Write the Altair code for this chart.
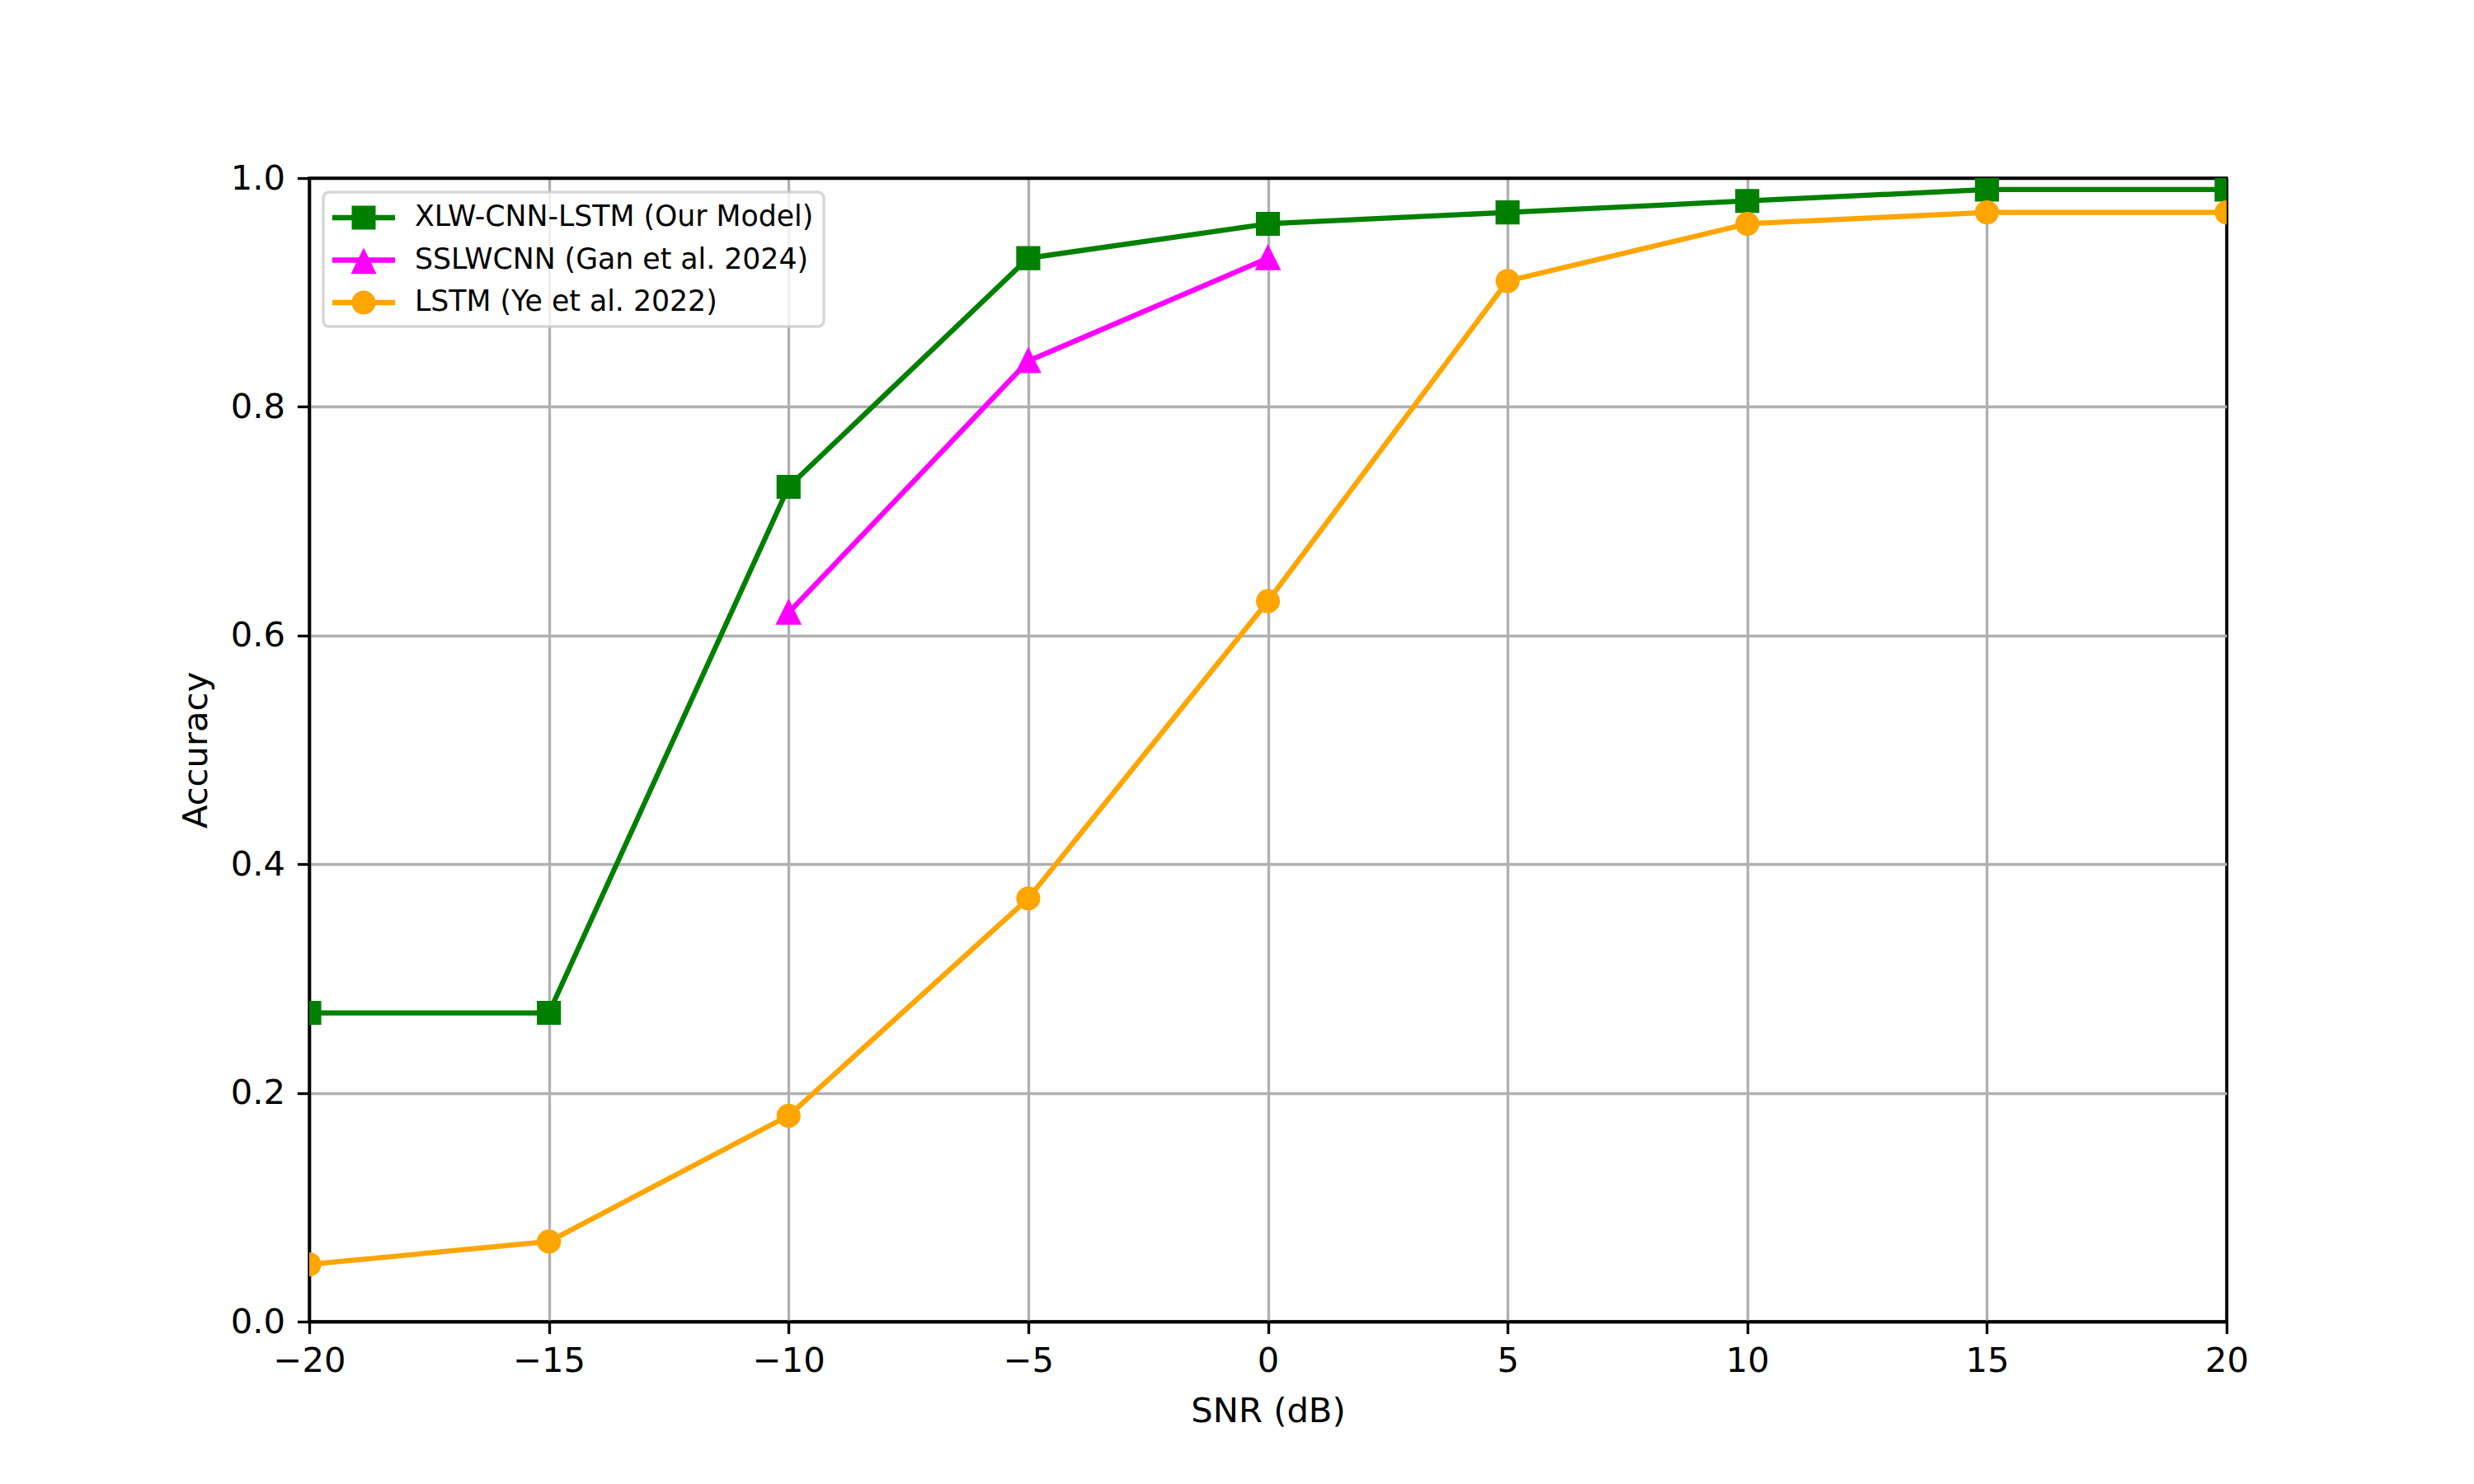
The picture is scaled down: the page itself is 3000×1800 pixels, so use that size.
import altair as alt
import pandas as pd

# ---- data ----
snr = [-20, -15, -10, -5, 0, 5, 10, 15, 20]
xlw_acc = [0.27, 0.27, 0.73, 0.93, 0.96, 0.97, 0.98, 0.99, 0.99]
ssl_snr = [-10, -5, 0]
ssl_acc = [0.62, 0.84, 0.93]
lstm_acc = [0.05, 0.07, 0.18, 0.37, 0.63, 0.91, 0.96, 0.97, 0.97]

names = ["XLW-CNN-LSTM (Our Model)", "SSLWCNN (Gan et al. 2024)", "LSTM (Ye et al. 2022)"]
colors = ["#008000", "#ff00ff", "#ffa500"]
x_ticks = [-20, -15, -10, -5, 0, 5, 10, 15, 20]
y_ticks = [0.0, 0.2, 0.4, 0.6, 0.8, 1.0]

PX = 300 / 72.0  # points -> pixels
FONT = "DejaVu Sans"

df_xlw = pd.DataFrame({"snr": snr, "acc": xlw_acc, "series": names[0]})
df_ssl = pd.DataFrame({"snr": ssl_snr, "acc": ssl_acc, "series": names[1]})
df_lstm = pd.DataFrame({"snr": snr, "acc": lstm_acc, "series": names[2]})
df_dummy = pd.DataFrame({"snr": [None] * 3, "acc": [None] * 3, "series": names})

x_axis = alt.Axis(values=x_ticks, title="SNR (dB)", format="d",
                  labelExpr="replace(datum.label, '-', '\u2212')",
                  labelFlush=False, labelPadding=13, titlePadding=19,
                  gridColor={"condition": {"test": "datum.value >= 20 || datum.value <= -20",
                                           "value": "black"}, "value": "#b0b0b0"})
y_axis = alt.Axis(values=y_ticks, title="Accuracy", format=".1f",
                  labelPadding=15, titlePadding=20,
                  gridColor={"condition": {"test": "datum.value >= 1 || datum.value <= 0",
                                           "value": "black"}, "value": "#b0b0b0"})
x_enc = alt.X("snr:Q", scale=alt.Scale(domain=[-20, 20], nice=False, zero=False), axis=x_axis)
y_enc = alt.Y("acc:Q", scale=alt.Scale(domain=[0, 1], nice=False), axis=y_axis)

MS = 6 * PX          # marker size
MEW = 1 * PX         # marker edge width
LW = 1.5 * PX        # line width

tri_path = "M0,-1L1,1L-1,1Z"


def series_layers(df, color, shape):
    line = alt.Chart(df).mark_line(color=color, strokeWidth=LW, clip=True,
                                   strokeJoin="round", strokeCap="square").encode(x=x_enc, y=y_enc)
    pts = alt.Chart(df).mark_point(shape=shape, filled=True, fill=color, stroke=color,
                                   strokeWidth=MEW, size=MS * MS, opacity=1,
                                   clip=True).encode(x=x_enc, y=y_enc)
    return [line, pts]


# legend symbols: handle line + marker (unit = sqrt(size)/2)
line_part = "M-2.03,-0.167H2.03V0.167H-2.03Z"
leg_shapes = [
    line_part + "M-0.773,-0.773H0.773V0.773H-0.773Z",
    line_part + "M0,-0.8L0.83,0.89H-0.83Z",
    line_part + "M-0.773,0A0.773,0.773 0 1 1 0.773,0A0.773,0.773 0 1 1 -0.773,0Z",
]

LEG_FS = 8.33 * PX
legend = alt.Legend(title=None, orient="none", legendX=17, legendY=17,
                    labelFont=FONT, labelFontSize=LEG_FS, labelColor="black",
                    labelLimit=2000, symbolSize=1406, symbolStrokeWidth=0,
                    symbolOpacity=1, symbolOffset=18, labelOffset=43,
                    padding=12, rowPadding=15.5,
                    fillColor="rgba(255,255,255,0.8)",
                    strokeColor="rgba(204,204,204,0.8)", cornerRadius=7)

dummy = alt.Chart(df_dummy).mark_point(filled=True, clip=True).encode(
    x=x_enc, y=y_enc,
    color=alt.Color("series:N", scale=alt.Scale(domain=names, range=colors), legend=legend),
    shape=alt.Shape("series:N", scale=alt.Scale(domain=names, range=leg_shapes), legend=legend),
)

layers = (series_layers(df_xlw, colors[0], "square")
          + series_layers(df_ssl, colors[1], tri_path)
          + series_layers(df_lstm, colors[2], "circle")
          + [dummy])

chart = alt.layer(*layers).properties(
    width=2325, height=1387,
    autosize=alt.AutoSizeParams(type="none"),
    padding={"left": 367, "top": 208, "right": 284, "bottom": 189},
).configure(background="white", font=FONT).configure_view(
    stroke="black", strokeWidth=0.8 * PX
).configure_axis(
    domainColor="black", domainWidth=0.8 * PX,
    tickColor="black", tickWidth=0.8 * PX, tickSize=3.5 * PX,
    labelFont=FONT, labelFontSize=10 * PX, labelColor="black",
    titleFont=FONT, titleFontSize=10 * PX, titleColor="black", titleFontWeight="normal",
    gridWidth=0.8 * PX,
).configure_legend(strokeWidth=0.8 * PX)

chart.save("out.html", embed_options={"renderer": "svg", "actions": False})
